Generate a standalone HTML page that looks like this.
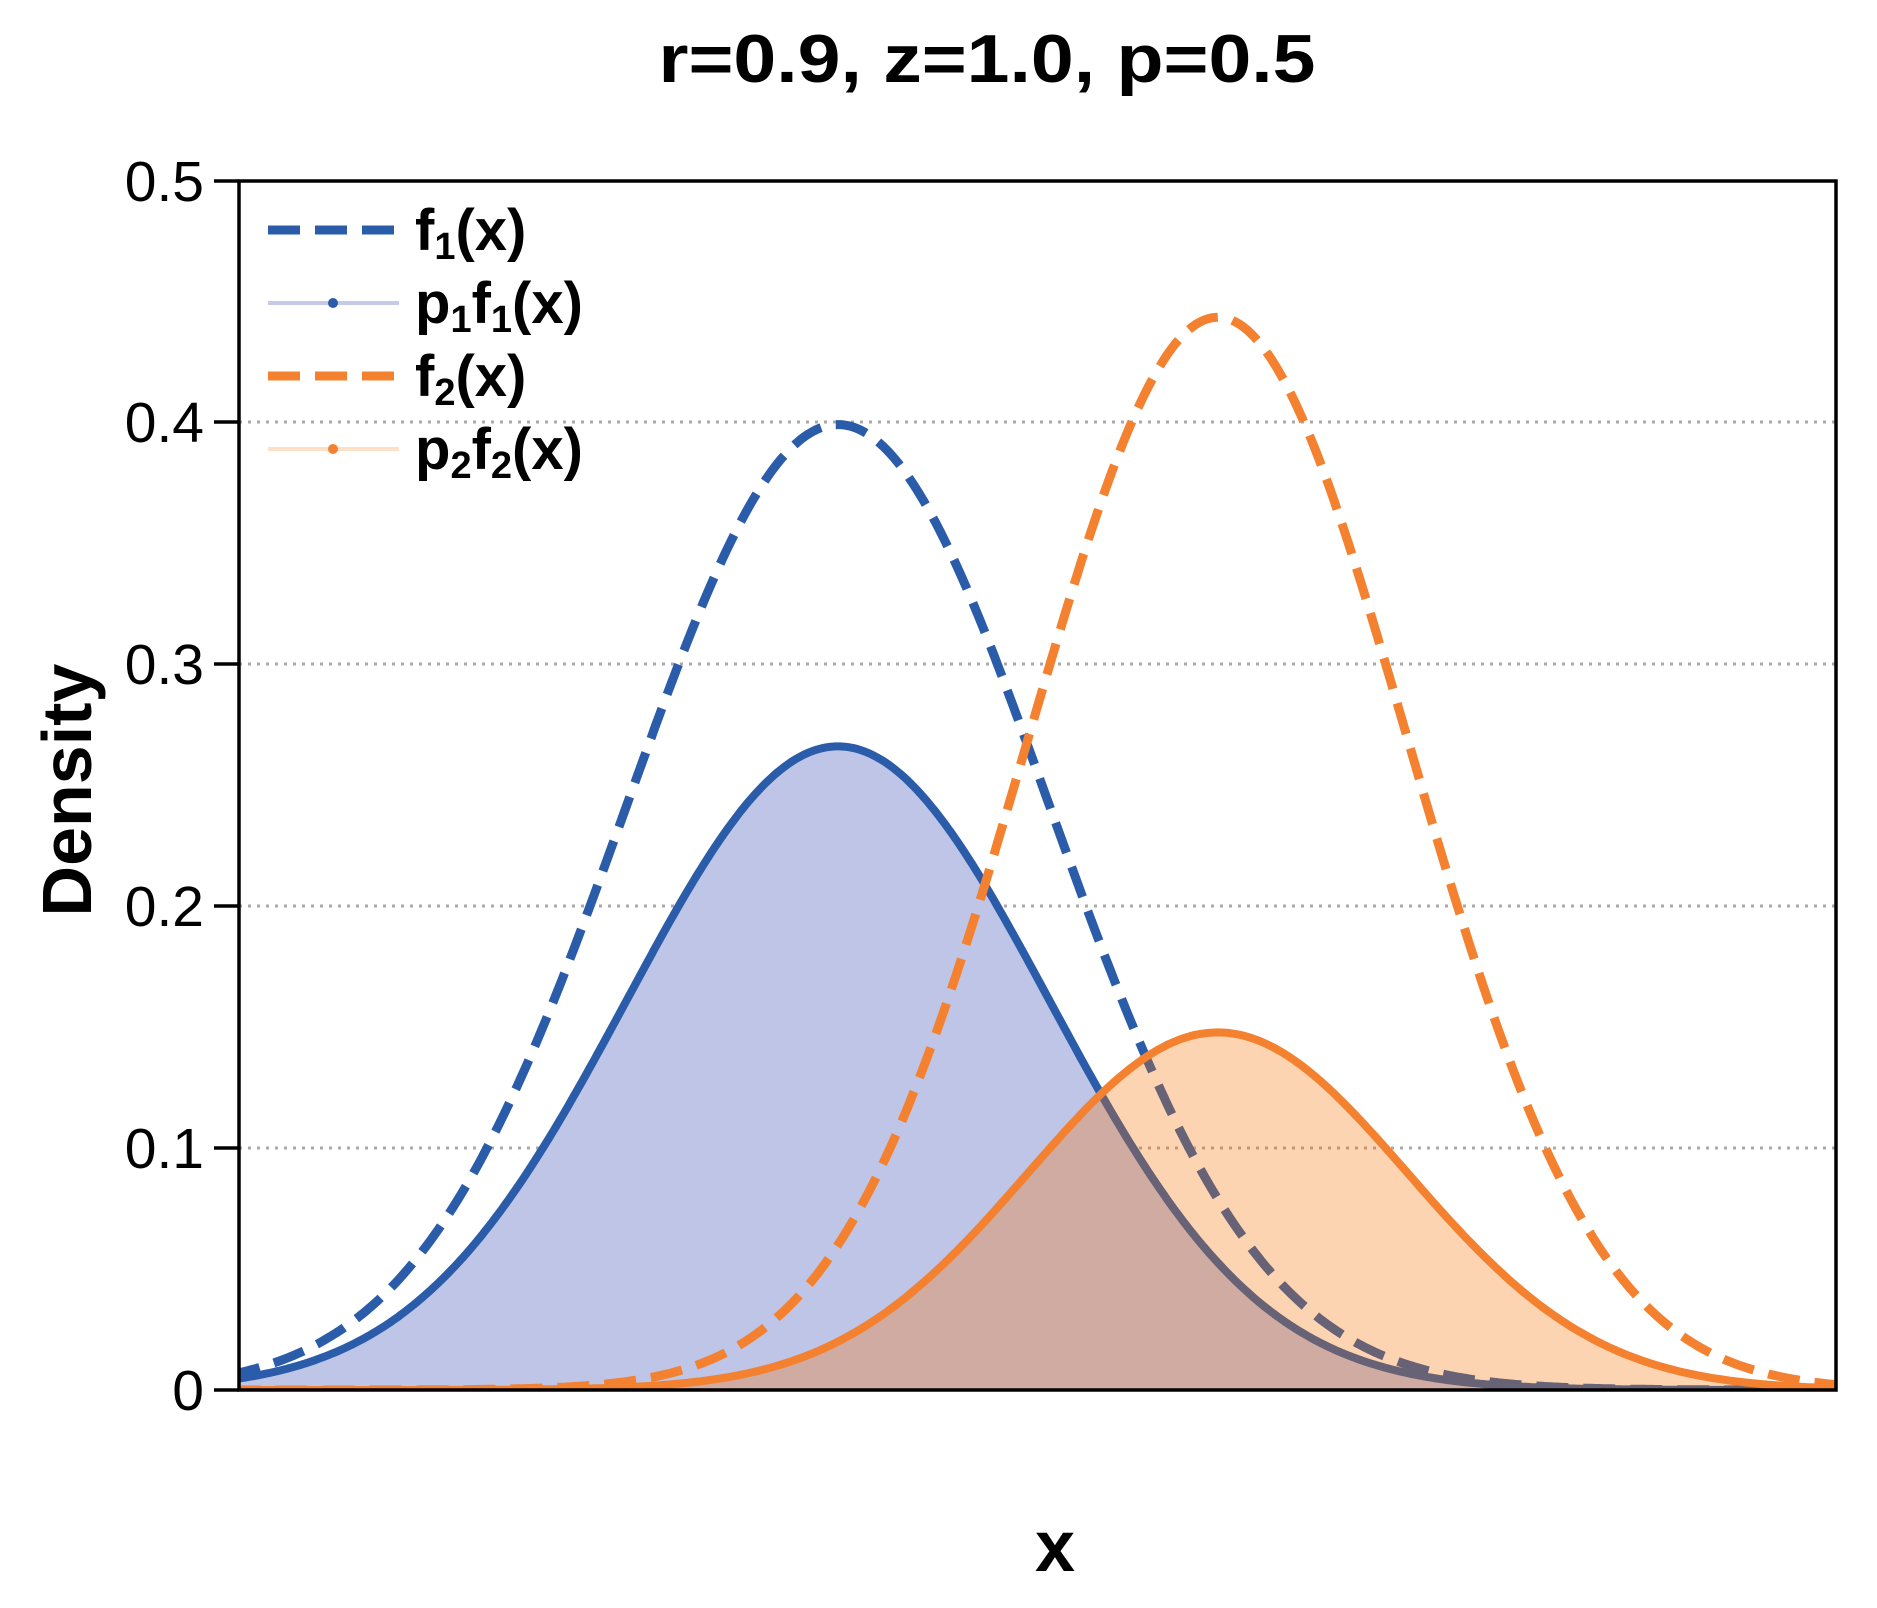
<!DOCTYPE html>
<html><head><meta charset="utf-8"><style>
html,body{margin:0;padding:0;background:#fff;}
svg{display:block;font-family:"Liberation Sans",Arial,sans-serif;}
</style></head><body>
<svg id="s" width="1877" height="1608" viewBox="0 0 1877 1608" xmlns="http://www.w3.org/2000/svg">
<defs><clipPath id="ax"><rect x="239" y="181" width="1597" height="1209"/></clipPath></defs>
<rect width="1877" height="1608" fill="#fff"/>
<g stroke="#aaa" stroke-width="3" stroke-dasharray="3 6">
<line x1="239" y1="1148" x2="1836" y2="1148"/>
<line x1="239" y1="906" x2="1836" y2="906"/>
<line x1="239" y1="664" x2="1836" y2="664"/>
<line x1="239" y1="422" x2="1836" y2="422"/>
</g>
<g clip-path="url(#ax)" id="plot"></g>
<rect x="239" y="181" width="1597" height="1209" fill="none" stroke="#000" stroke-width="3.5"/>
<g stroke="#000" stroke-width="3.5">
<line x1="214" y1="1390" x2="239" y2="1390"/>
<line x1="214" y1="1148" x2="239" y2="1148"/>
<line x1="214" y1="906" x2="239" y2="906"/>
<line x1="214" y1="664" x2="239" y2="664"/>
<line x1="214" y1="422" x2="239" y2="422"/>
<line x1="214" y1="181" x2="239" y2="181"/>
</g>
<g font-size="57" text-anchor="end" fill="#000">
<text x="204" y="1410">0</text>
<text x="204" y="1168">0.1</text>
<text x="204" y="926">0.2</text>
<text x="204" y="684">0.3</text>
<text x="204" y="442">0.4</text>
<text x="204" y="201">0.5</text>
</g>
<text x="987" y="82" font-size="68" font-weight="bold" text-anchor="middle" textLength="657" lengthAdjust="spacingAndGlyphs">r=0.9, z=1.0, p=0.5</text>
<text x="1055" y="1571" font-size="72" font-weight="bold" text-anchor="middle">x</text>
<text transform="translate(91,790) rotate(-90)" font-size="70" font-weight="bold" text-anchor="middle">Density</text>
<!-- legend -->
<line x1="268" y1="230" x2="394" y2="230" stroke="#2a5caa" stroke-width="9" stroke-dasharray="32 15"/>
<line x1="268" y1="303" x2="399" y2="303" stroke="#c5cae9" stroke-width="4"/>
<circle cx="333" cy="303" r="5" fill="#2a5caa"/>
<line x1="268" y1="376" x2="394" y2="376" stroke="#f4812f" stroke-width="9" stroke-dasharray="32 15"/>
<line x1="268" y1="449" x2="399" y2="449" stroke="#fde0c8" stroke-width="4"/>
<circle cx="333" cy="449" r="5" fill="#f4812f"/>
<g font-size="58" font-weight="bold">
<text x="415" y="250">f<tspan font-size="38" dy="9">1</tspan><tspan dy="-9">(x)</tspan></text>
<text x="415" y="323">p<tspan font-size="38" dy="9">1</tspan><tspan dy="-9">f</tspan><tspan font-size="38" dy="9">1</tspan><tspan dy="-9">(x)</tspan></text>
<text x="415" y="396">f<tspan font-size="38" dy="9">2</tspan><tspan dy="-9">(x)</tspan></text>
<text x="415" y="469">p<tspan font-size="38" dy="9">2</tspan><tspan dy="-9">f</tspan><tspan font-size="38" dy="9">2</tspan><tspan dy="-9">(x)</tspan></text>
</g>
</svg>
<script>
(function(){
var NS="http://www.w3.org/2000/svg";
var g=document.getElementById("plot");
function X(u){return 838+211*u;}
function Y(v){return 1390-2420*v;}
function pdf(u,m,s){var z=(u-m)/s;return Math.exp(-0.5*z*z)/(s*Math.sqrt(2*Math.PI));}
var u0=(239-838)/211-0.05,u1=(1836-838)/211+0.05;
function path(f,fill){var d="";var n=600;for(var i=0;i<=n;i++){var u=u0+(u1-u0)*i/n;d+=(i?"L":"M")+X(u).toFixed(1)+" "+Y(f(u)).toFixed(1);}
if(fill)d+="L"+X(u1).toFixed(1)+" 1390L"+X(u0).toFixed(1)+" 1390Z";return d;}
function add(d,attrs){var p=document.createElementNS(NS,"path");p.setAttribute("d",d);for(var k in attrs)p.setAttribute(k,attrs[k]);g.appendChild(p);}
var f1=function(u){return pdf(u,0,1);},f2=function(u){return pdf(u,1.8,0.9);};
var pf1=function(u){return f1(u)*2/3;},pf2=function(u){return f2(u)/3;};
add(path(pf1,true),{fill:"#bfc5e7"});
add(path(f1,false),{fill:"none",stroke:"#2a5caa","stroke-width":9,"stroke-dasharray":"32 15"});
add(path(pf1,false),{fill:"none",stroke:"#2a5caa","stroke-width":8});
add(path(pf2,true),{fill:"rgba(248,112,0,0.3)"});
add(path(f2,false),{fill:"none",stroke:"#f4812f","stroke-width":9,"stroke-dasharray":"32 15"});
add(path(pf2,false),{fill:"none",stroke:"#f4812f","stroke-width":8});
})();
</script>
</body></html>
